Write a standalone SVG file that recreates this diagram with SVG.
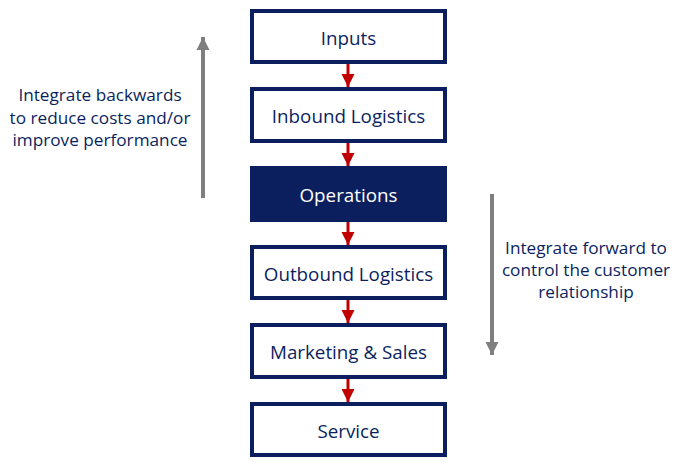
<svg xmlns="http://www.w3.org/2000/svg" width="680" height="463" viewBox="0 0 680 463">
<style>
.box rect{fill:#fff;stroke:#0b1f5e;stroke-width:4}
.box.dark rect{fill:#0b1f5e}
.box text{font-family:"Open Sans","Liberation Sans",sans-serif;font-size:18.8px;fill:#0b1f5e;text-anchor:middle}
.box.dark text{fill:#fff}
.lbl{font-family:"Open Sans","Liberation Sans",sans-serif;font-size:17.2px;fill:#0b1f5e;text-anchor:middle}
.red{stroke:#c00000;stroke-width:3;fill:none}
.gray{stroke:#7f7f7f;stroke-width:4;fill:none}
</style>
<defs>
<marker id="rh" viewBox="0 0 10 10" refX="10" refY="5" markerWidth="4.5" markerHeight="4.5" markerUnits="strokeWidth" orient="auto"><path d="M0,0L10,5L0,10z" fill="#c00000"/></marker>
<marker id="gh" viewBox="0 0 10 10" refX="10" refY="5" markerWidth="3.3" markerHeight="3.3" markerUnits="strokeWidth" orient="auto"><path d="M0,0L10,5L0,10z" fill="#7f7f7f"/></marker>
</defs>
<g id="connectors">
<line class="red" x1="348" y1="63" x2="348" y2="87" marker-end="url(#rh)"/>
<line class="red" x1="348" y1="143" x2="348" y2="166" marker-end="url(#rh)"/>
<line class="red" x1="348" y1="222" x2="348" y2="245" marker-end="url(#rh)"/>
<line class="red" x1="348" y1="299" x2="348" y2="323" marker-end="url(#rh)"/>
<line class="red" x1="348" y1="379" x2="348" y2="402" marker-end="url(#rh)"/>
<line class="gray" x1="203" y1="198" x2="203" y2="37" marker-end="url(#gh)"/>
<line class="gray" x1="492" y1="194" x2="492" y2="355" marker-end="url(#gh)"/>
</g>
<g id="inputs" class="box"><rect x="252" y="11" width="193" height="51"/><text x="348.5" y="45">Inputs</text></g>
<g id="inbound" class="box"><rect x="252" y="89" width="193" height="52"/><text x="348.5" y="123">Inbound Logistics</text></g>
<g id="operations" class="box dark"><rect x="252" y="168" width="193" height="52"/><text x="348.5" y="202">Operations</text></g>
<g id="outbound" class="box"><rect x="252" y="247" width="193" height="51"/><text x="348.5" y="281">Outbound Logistics</text></g>
<g id="marketing" class="box"><rect x="252" y="325" width="193" height="52"/><text x="348.5" y="359">Marketing &amp; Sales</text></g>
<g id="service" class="box"><rect x="252" y="404" width="193" height="51"/><text x="348.5" y="438">Service</text></g>
<g id="backward-label"><text class="lbl" x="100" y="101">Integrate backwards</text><text class="lbl" x="100" y="123.5">to reduce costs and/or</text><text class="lbl" x="100" y="146">improve performance</text></g>
<g id="forward-label"><text class="lbl" x="586" y="254">Integrate forward to</text><text class="lbl" x="586" y="276">control the customer</text><text class="lbl" x="586" y="298">relationship</text></g>
</svg>
